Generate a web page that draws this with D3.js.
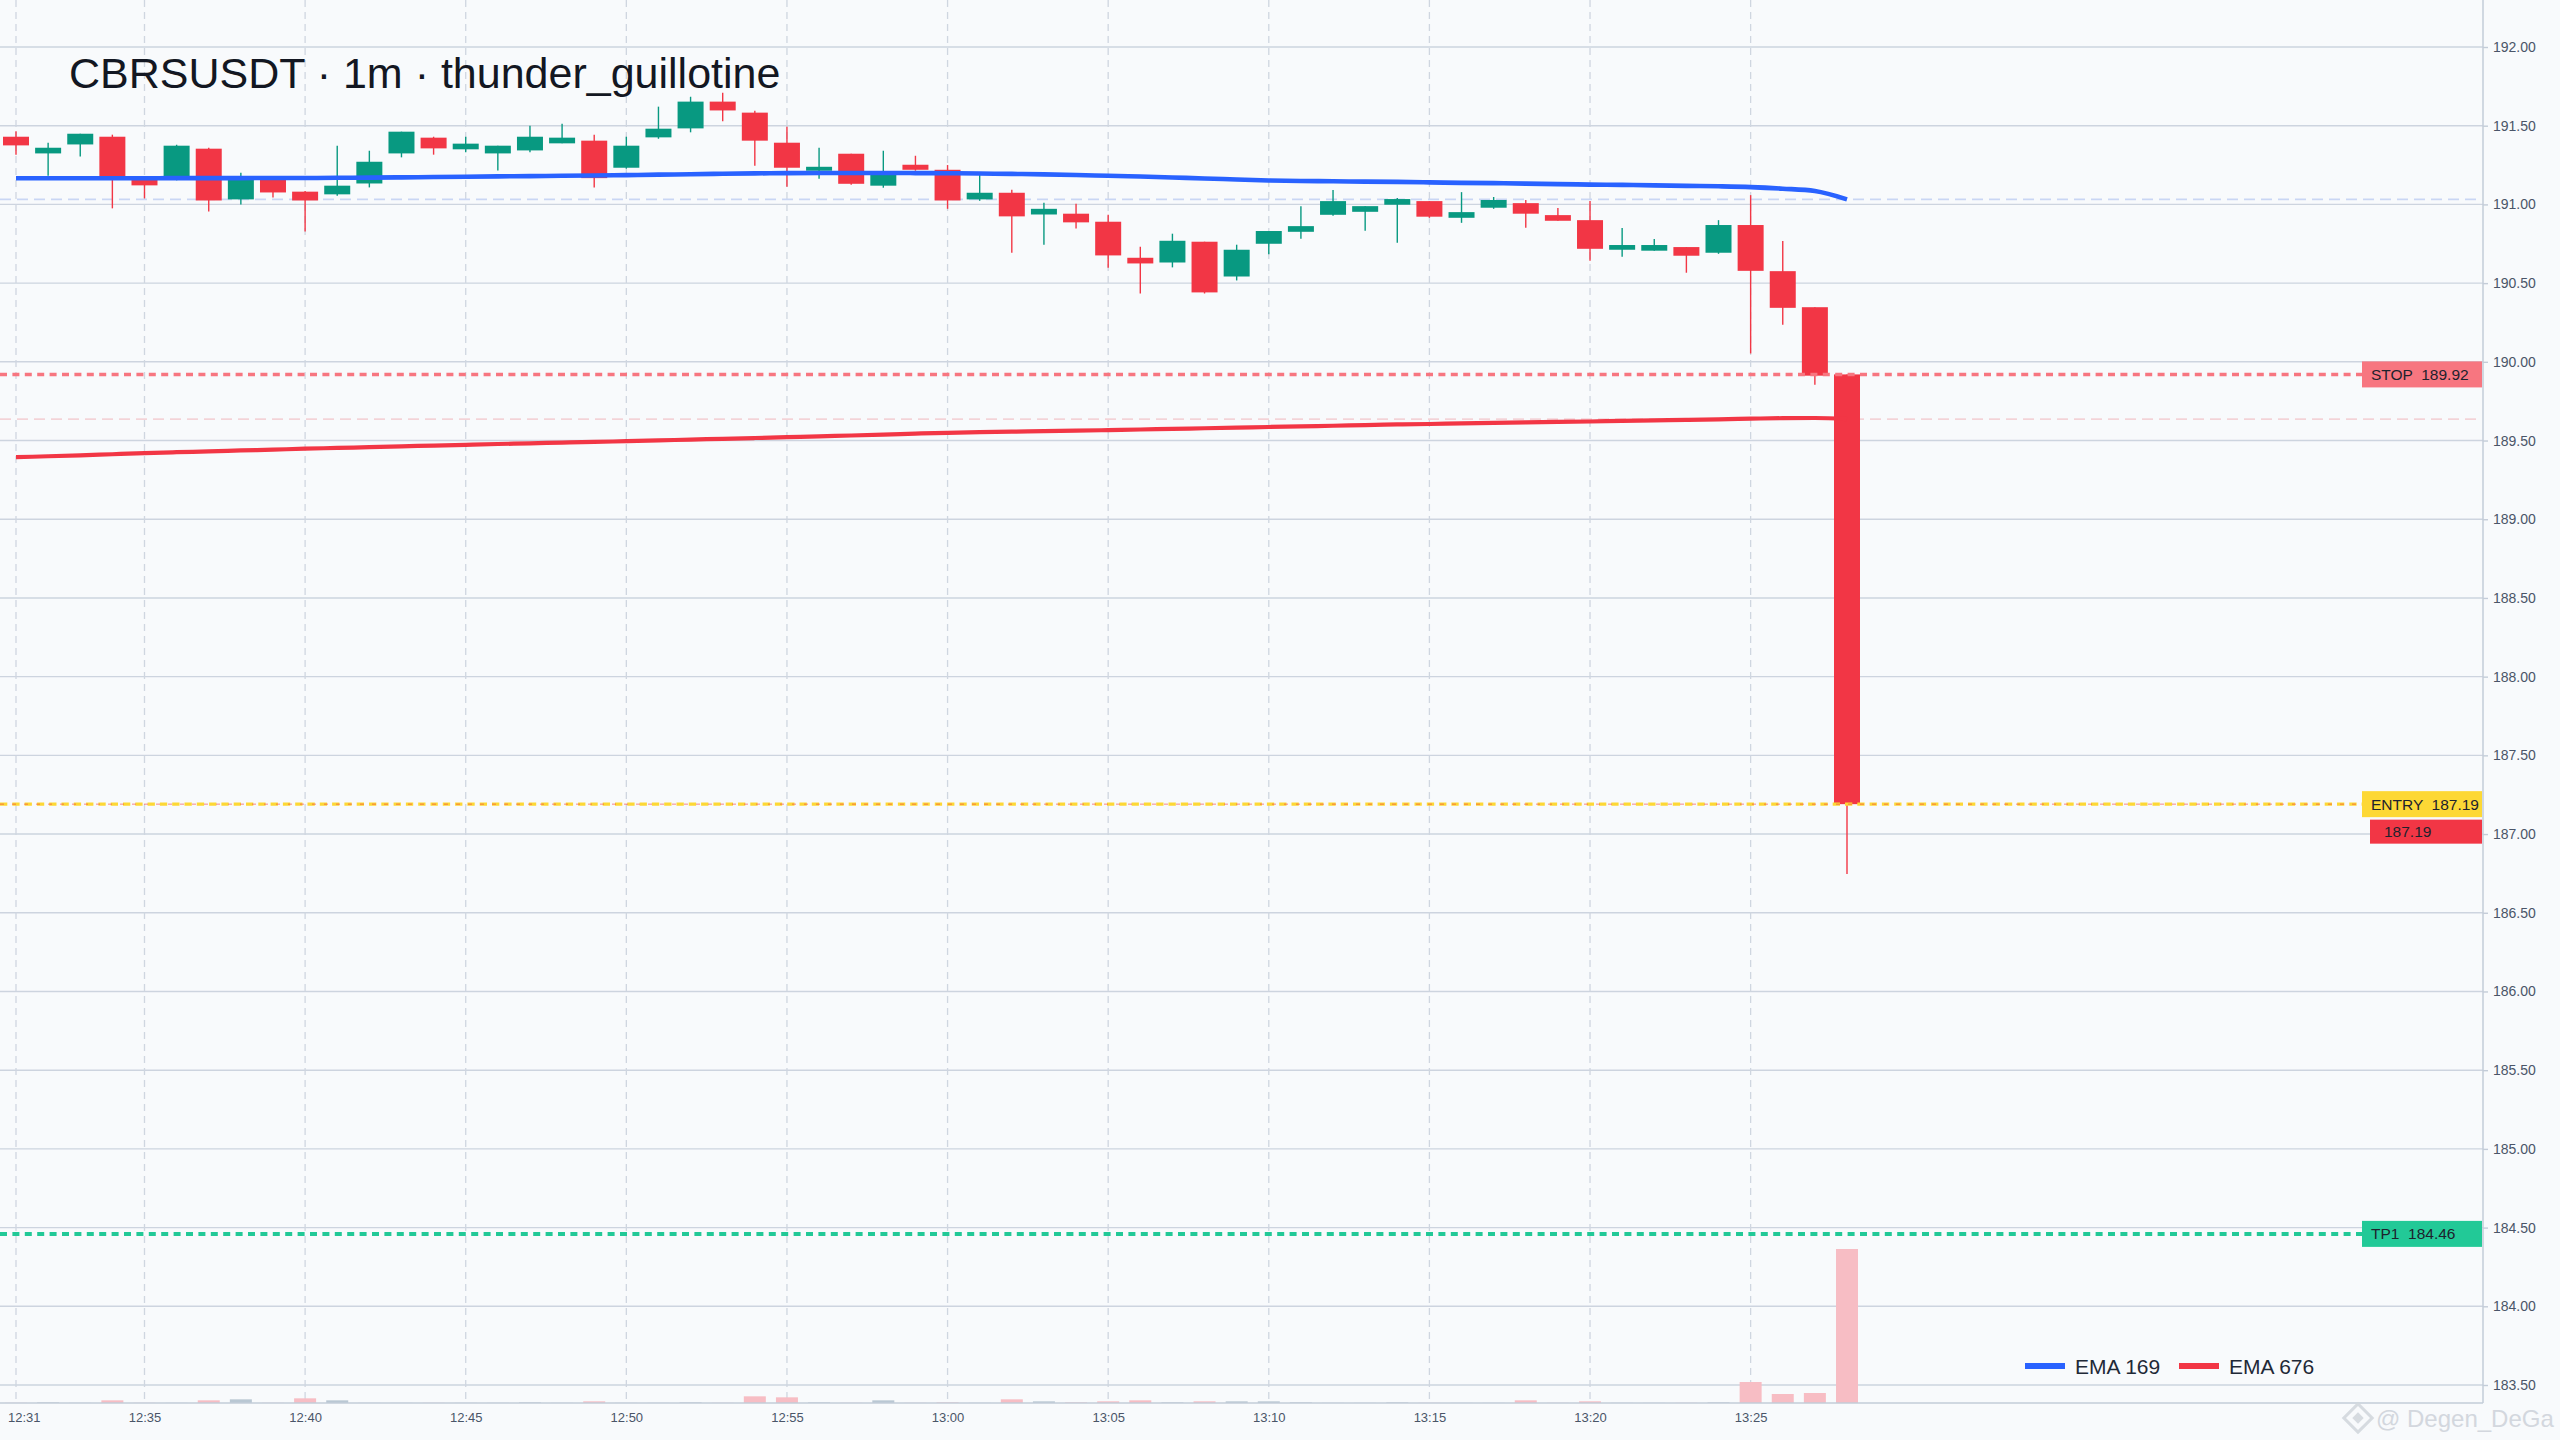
<!DOCTYPE html>
<html>
<head>
<meta charset="utf-8">
<script src="https://cdn.jsdelivr.net/npm/d3@7"></script>
<style>
  html, body { margin: 0; padding: 0; background: #f8fafc; }
  #chart { width: 2560px; height: 1440px; }
  text { font-family: "Liberation Sans", Arial, sans-serif; }
</style>
</head>
<body>
<div id="chart"></div>
<script>
// candle data, 1m bars 12:31 -> 13:28
const times = [
  '12:31', '12:32', '12:33', '12:34', '12:35', '12:36', '12:37', '12:38', '12:39', '12:40',
  '12:41', '12:42', '12:43', '12:44', '12:45', '12:46', '12:47', '12:48', '12:49', '12:50',
  '12:51', '12:52', '12:53', '12:54', '12:55', '12:56', '12:57', '12:58', '12:59', '13:00',
  '13:01', '13:02', '13:03', '13:04', '13:05', '13:06', '13:07', '13:08', '13:09', '13:10',
  '13:11', '13:12', '13:13', '13:14', '13:15', '13:16', '13:17', '13:18', '13:19', '13:20',
  '13:21', '13:22', '13:23', '13:24', '13:25', '13:26', '13:27', '13:28'
];
const opens = [
  191.430, 191.324, 191.381, 191.430, 191.161, 191.161, 191.354, 191.032, 191.157, 191.081,
  191.064, 191.133, 191.324, 191.424, 191.350, 191.324, 191.343, 191.388, 191.405, 191.233,
  191.426, 191.483, 191.653, 191.583, 191.392, 191.214, 191.322, 191.119, 191.252, 191.220,
  191.032, 191.074, 190.936, 190.941, 190.890, 190.661, 190.631, 190.763, 190.542, 190.750,
  190.826, 190.934, 190.953, 190.998, 191.021, 190.915, 190.979, 191.008, 190.932, 190.900,
  190.712, 190.706, 190.729, 190.693, 190.869, 190.576, 190.347, 189.920
];
const highs = [
  191.464, 191.392, 191.449, 191.443, 191.174, 191.379, 191.360, 191.201, 191.165, 191.085,
  191.373, 191.341, 191.462, 191.430, 191.430, 191.373, 191.500, 191.513, 191.443, 191.430,
  191.621, 191.684, 191.710, 191.595, 191.494, 191.360, 191.322, 191.341, 191.309, 191.250,
  191.189, 191.093, 191.011, 191.004, 190.934, 190.731, 190.814, 190.763, 190.744, 190.831,
  190.989, 191.091, 190.989, 191.040, 191.021, 191.078, 191.047, 191.028, 190.977, 191.021,
  190.850, 190.780, 190.729, 190.900, 191.059, 190.767, 190.347, 189.920
];
const lows = [
  191.316, 191.182, 191.305, 190.975, 191.038, 191.153, 190.955, 191.000, 191.044, 190.828,
  191.055, 191.108, 191.299, 191.316, 191.331, 191.216, 191.331, 191.388, 191.108, 191.227,
  191.417, 191.458, 191.528, 191.246, 191.112, 191.163, 191.125, 191.106, 191.214, 190.972,
  191.023, 190.693, 190.744, 190.847, 190.597, 190.434, 190.600, 190.434, 190.517, 190.684,
  190.782, 190.928, 190.833, 190.756, 190.915, 190.883, 190.972, 190.852, 190.896, 190.642,
  190.667, 190.706, 190.566, 190.686, 190.053, 190.235, 189.854, 186.746
];
const closes = [
  191.375, 191.360, 191.449, 191.167, 191.121, 191.373, 191.025, 191.174, 191.076, 191.025,
  191.119, 191.271, 191.462, 191.356, 191.386, 191.373, 191.430, 191.424, 191.167, 191.373,
  191.481, 191.653, 191.597, 191.405, 191.233, 191.239, 191.131, 191.195, 191.220, 191.025,
  191.074, 190.924, 190.972, 190.886, 190.676, 190.625, 190.769, 190.441, 190.712, 190.831,
  190.862, 191.021, 190.989, 191.034, 190.922, 190.951, 191.028, 190.941, 190.896, 190.718,
  190.742, 190.742, 190.674, 190.869, 190.578, 190.343, 189.912, 187.190
];
const volumes = [
  5, 20, 5, 80, 5, 5, 80, 110, 5, 140,
  80, 5, 5, 5, 5, 5, 20, 5, 50, 5,
  5, 20, 5, 200, 170, 20, 5, 80, 5, 20,
  5, 110, 50, 20, 50, 80, 20, 50, 50, 50,
  20, 5, 5, 20, 5, 5, 5, 80, 5, 50,
  5, 5, 5, 20, 630, 270, 300, 4620
];
const ema_169 = [
  191.166, 191.166, 191.166, 191.166, 191.166, 191.167, 191.167, 191.167, 191.168, 191.168,
  191.169, 191.170, 191.172, 191.174, 191.176, 191.178, 191.180, 191.182, 191.184, 191.186,
  191.189, 191.192, 191.195, 191.197, 191.199, 191.200, 191.200, 191.200, 191.199, 191.198,
  191.196, 191.194, 191.191, 191.187, 191.182, 191.177, 191.171, 191.165, 191.158, 191.152,
  191.149, 191.147, 191.145, 191.143, 191.140, 191.137, 191.135, 191.132, 191.129, 191.126,
  191.124, 191.121, 191.118, 191.115, 191.110, 191.100, 191.085, 191.032
];
const ema_676 = [
  189.394, 189.400, 189.406, 189.413, 189.420, 189.426, 189.431, 189.437, 189.442, 189.448,
  189.453, 189.458, 189.463, 189.468, 189.473, 189.478, 189.482, 189.487, 189.491, 189.496,
  189.501, 189.506, 189.511, 189.516, 189.521, 189.527, 189.532, 189.538, 189.544, 189.549,
  189.553, 189.556, 189.560, 189.563, 189.566, 189.570, 189.574, 189.578, 189.582, 189.586,
  189.590, 189.594, 189.598, 189.602, 189.605, 189.609, 189.612, 189.615, 189.618, 189.621,
  189.625, 189.628, 189.631, 189.635, 189.639, 189.642, 189.643, 189.636
];

// axis ticks
const x_tick_labels = ['12:31', '12:35', '12:40', '12:45', '12:50', '12:55', '13:00', '13:05', '13:10', '13:15', '13:20', '13:25'];
const price_ticks = [183.5, 184, 184.5, 185, 185.5, 186, 186.5, 187, 187.5, 188, 188.5, 189, 189.5, 190, 190.5, 191, 191.5, 192];

// trade levels
const stop_price = 189.92;
const entry_price = 187.19;
const tp1_price = 184.46;
const last_price = 187.19;

const title = 'CBRSUSDT · 1m · thunder_guillotine';
const legend_labels = ['EMA 169', 'EMA 676'];

// colours
const GREEN = '#089981';
const RED = '#f23645';
const BLUE = '#2962ff';
const GRID = '#cdd4df';

const width = 2560;
const height = 1440;
const plot_right = 2483;
const plot_bottom = 1403;

const svg = d3.select('#chart')
  .append('svg')
  .attr('width', width)
  .attr('height', height);

svg.append('rect')
  .attr('width', width)
  .attr('height', height)
  .attr('fill', '#f8fafc');

// scales
const x = d3.scalePoint().domain(times).range([16, 1847]);
const y = d3.scaleLinear().domain([183.5, 192]).range([1385, 47]);
const y_vol = d3.scaleLinear().domain([0, d3.max(volumes)]).range([plot_bottom, 1249]);

const body_w = 26;
const vol_w = 22;

svg.append('clipPath').attr('id', 'plot-clip')
  .append('rect').attr('x', 0).attr('y', 0).attr('width', plot_right).attr('height', plot_bottom);

const plot = svg.append('g').attr('clip-path', 'url(#plot-clip)');

// horizontal grid
plot.append('g')
  .selectAll('line')
  .data(price_ticks)
  .join('line')
  .attr('x1', 0)
  .attr('x2', plot_right)
  .attr('y1', d => y(d))
  .attr('y2', d => y(d))
  .attr('stroke', GRID)
  .attr('stroke-width', 1.4);

// vertical grid (dashed)
plot.append('g')
  .selectAll('line')
  .data(x_tick_labels)
  .join('line')
  .attr('x1', d => x(d))
  .attr('x2', d => x(d))
  .attr('y1', 0)
  .attr('y2', plot_bottom)
  .attr('stroke', '#cfd6e0')
  .attr('stroke-width', 1.3)
  .attr('stroke-dasharray', '7,5');

// volume bars
plot.append('g')
  .selectAll('rect')
  .data(times)
  .join('rect')
  .attr('x', d => x(d) - vol_w / 2)
  .attr('width', vol_w)
  .attr('y', (d, i) => y_vol(volumes[i]))
  .attr('height', (d, i) => plot_bottom - y_vol(volumes[i]))
  .attr('fill', (d, i) => closes[i] >= opens[i] ? '#b9c7d3' : '#f7bdc4');

// ema last value lines
const ema_last_lines = [
  { price: ema_169[ema_169.length - 1], color: '#c9d6f4' },
  { price: ema_676[ema_676.length - 1], color: '#f3d3d7' }
];
plot.append('g')
  .selectAll('line')
  .data(ema_last_lines)
  .join('line')
  .attr('x1', 0)
  .attr('x2', 2478)
  .attr('y1', d => y(d.price))
  .attr('y2', d => y(d.price))
  .attr('stroke', d => d.color)
  .attr('stroke-width', 1.6)
  .attr('stroke-dasharray', '11,6');

// candles
const candles = plot.append('g')
  .selectAll('g')
  .data(times)
  .join('g');

candles.append('line')
  .attr('x1', d => x(d))
  .attr('x2', d => x(d))
  .attr('y1', (d, i) => y(highs[i]))
  .attr('y2', (d, i) => y(lows[i]))
  .attr('stroke', (d, i) => closes[i] >= opens[i] ? GREEN : RED)
  .attr('stroke-width', 1.4);

candles.append('rect')
  .attr('x', d => x(d) - body_w / 2)
  .attr('width', body_w)
  .attr('y', (d, i) => y(Math.max(opens[i], closes[i])))
  .attr('height', (d, i) => Math.max(1, Math.abs(y(opens[i]) - y(closes[i]))))
  .attr('fill', (d, i) => closes[i] >= opens[i] ? GREEN : RED);

// ema lines
const ema_line = (arr) => d3.line()
  .x(d => x(d))
  .y((d, i) => y(arr[i]))
  .curve(d3.curveMonotoneX);

plot.append('path')
  .datum(times)
  .attr('d', ema_line(ema_676))
  .attr('fill', 'none')
  .attr('stroke', RED)
  .attr('stroke-width', 4.2);

plot.append('path')
  .datum(times)
  .attr('d', ema_line(ema_169))
  .attr('fill', 'none')
  .attr('stroke', BLUE)
  .attr('stroke-width', 4.6);

// trade level lines
const levels = [
  { name: 'STOP', price: stop_price, color: '#f77680', width: 3.5, dash: '7,5.4' },
  { name: 'ENTRY', price: entry_price, color: '#fdd835', width: 3.4, dash: '7.3,5' },
  { name: 'TP1', price: tp1_price, color: '#22c997', width: 4, dash: '7,5.4' }
];

plot.append('g')
  .selectAll('line')
  .data(levels)
  .join('line')
  .attr('x1', 0)
  .attr('x2', 2362)
  .attr('y1', d => y(d.price))
  .attr('y2', d => y(d.price))
  .attr('stroke', d => d.color)
  .attr('stroke-width', d => d.width)
  .attr('stroke-dasharray', d => d.dash);

// last price line (thin red, over the entry line)
plot.append('line')
  .attr('x1', 0)
  .attr('x2', 2370)
  .attr('y1', y(last_price))
  .attr('y2', y(last_price))
  .attr('stroke', RED)
  .attr('stroke-width', 0.8)
  .attr('stroke-opacity', 0.75)
  .attr('stroke-dasharray', '4,8');

// right price axis
const y_axis = svg.append('g')
  .attr('transform', `translate(${plot_right}, 0)`)
  .call(d3.axisRight(y).tickValues(price_ticks).tickFormat(d3.format('.2f')).tickSize(5).tickPadding(5));
y_axis.select('.domain').remove();
y_axis.selectAll('line').attr('stroke', '#c3ccd8').attr('stroke-width', 1.4);
y_axis.selectAll('text')
  .attr('fill', '#4a5568')
  .style('font-size', '14px')
  .style('font-family', '"Liberation Sans", Arial, sans-serif');

svg.append('line')
  .attr('x1', plot_right).attr('x2', plot_right)
  .attr('y1', 0).attr('y2', plot_bottom)
  .attr('stroke', '#c3ccd8')
  .attr('stroke-width', 1.5);

// bottom time axis
svg.append('line')
  .attr('x1', 0).attr('x2', plot_right)
  .attr('y1', plot_bottom).attr('y2', plot_bottom)
  .attr('stroke', '#c3ccd8')
  .attr('stroke-width', 1.5);

const x_axis = svg.append('g')
  .attr('transform', `translate(0, ${plot_bottom})`)
  .call(d3.axisBottom(x).tickValues(x_tick_labels).tickSize(0).tickPadding(10));
x_axis.select('.domain').remove();
x_axis.selectAll('text')
  .attr('fill', '#4a5568')
  .style('font-size', '13px')
  .style('font-family', '"Liberation Sans", Arial, sans-serif');
// keep first label inside the left edge
x_axis.selectAll('text').each(function () {
  const b = this.getBBox();
  const tx = +this.parentNode.getAttribute('transform').match(/translate\(([-\d.]+)/)[1];
  if (tx + b.x < 8) d3.select(this).attr('x', 8 - tx - b.x);
});

// level tags on the price axis
const tags = [
  { text: 'STOP  ' + stop_price.toFixed(2), price: stop_price, fill: '#f77680', x0: 2362, tx: 2371 },
  { text: 'ENTRY  ' + entry_price.toFixed(2), price: entry_price, fill: '#fdd835', x0: 2362, tx: 2371 },
  { text: 'TP1  ' + tp1_price.toFixed(2), price: tp1_price, fill: '#22c997', x0: 2362, tx: 2371 },
  { text: last_price.toFixed(2), price: last_price, fill: RED, x0: 2370, tx: 2384, shift: 27.5 }
];
const tag_g = svg.append('g')
  .selectAll('g')
  .data(tags)
  .join('g')
  .attr('transform', d => `translate(0, ${y(d.price) + (d.shift || 0)})`);
tag_g.append('rect')
  .attr('x', d => d.x0)
  .attr('y', d => d.shift ? -12 : -13)
  .attr('width', d => plot_right - 1 - d.x0)
  .attr('height', d => d.shift ? 24 : 26)
  .attr('fill', d => d.fill);
tag_g.append('text')
  .attr('x', d => d.tx)
  .attr('y', 0)
  .attr('dy', '0.36em')
  .style('white-space', 'pre')
  .style('font-size', '15.5px')
  .attr('fill', '#1e222d')
  .text(d => d.text);

// title
svg.append('text')
  .attr('x', 69)
  .attr('y', 88)
  .attr('fill', '#131722')
  .style('font-size', '43px')
  .text(title);

// legend
const legend_colors = [BLUE, RED];
const legend_x = [2025, 2179];
const legend = svg.append('g')
  .selectAll('g')
  .data(legend_labels)
  .join('g')
  .attr('transform', (d, i) => `translate(${legend_x[i]}, 1366)`);
legend.append('rect')
  .attr('x', 0).attr('y', -3)
  .attr('width', 40).attr('height', 6)
  .attr('fill', (d, i) => legend_colors[i]);
legend.append('text')
  .attr('x', 50)
  .attr('y', 0)
  .attr('dy', '0.36em')
  .attr('fill', '#1f2937')
  .style('font-size', '21px')
  .text(d => d);

// faint watermark
const wm = svg.append('g').attr('transform', 'translate(2358, 1418)').attr('opacity', 0.9);
wm.append('rect')
  .attr('x', -10).attr('y', -10).attr('width', 20).attr('height', 20)
  .attr('transform', 'rotate(45)')
  .attr('fill', 'none').attr('stroke', '#d3d8de').attr('stroke-width', 3);
wm.append('rect')
  .attr('x', -4).attr('y', -4).attr('width', 8).attr('height', 8)
  .attr('transform', 'rotate(45)')
  .attr('fill', '#d3d8de');
wm.append('text')
  .attr('x', 18)
  .attr('y', 0)
  .attr('dy', '0.36em')
  .attr('fill', '#cfd4db')
  .style('font-size', '24px')
  .text('@ Degen_DeGa');
</script>
</body>
</html>
